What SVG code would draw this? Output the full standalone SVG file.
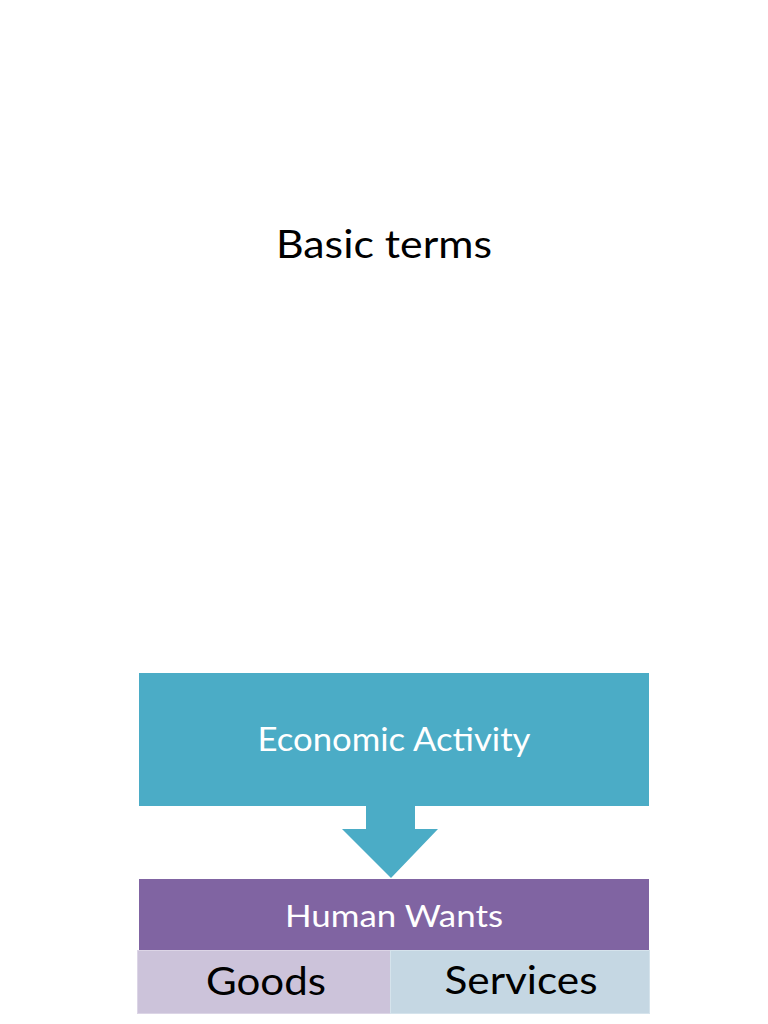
<svg xmlns="http://www.w3.org/2000/svg" width="768" height="1024" viewBox="0 0 768 1024">
<style>
text{font-family:"Lato","Liberation Sans",sans-serif;text-anchor:middle}
.w{fill:#ffffff}
.k{fill:#000000}
</style>
<rect width="768" height="1024" fill="#ffffff"/>
<text id="title" x="384" y="258" class="k" font-size="39" textLength="216" lengthAdjust="spacingAndGlyphs">Basic terms</text>
<g id="connectors">
<polygon points="366,805 415,805 415,829 438,829 391,878 342,829 366,829" fill="#4BACC6"/>
</g>
<g id="economic-activity">
<rect x="139" y="673" width="510" height="133" fill="#4BACC6"/>
<text x="394" y="751" class="w" font-size="32" textLength="273" lengthAdjust="spacingAndGlyphs">Economic Activity</text>
</g>
<g id="human-wants">
<rect x="139" y="879" width="510" height="71" fill="#8064A2"/>
<text x="394" y="927" class="w" font-size="31" textLength="218" lengthAdjust="spacingAndGlyphs">Human Wants</text>
</g>
<g id="goods">
<rect x="137.5" y="950.5" width="253" height="63" fill="#CCC3DA" stroke="#DCD5E6" stroke-width="1"/>
<text x="266" y="995" class="k" font-size="39" textLength="120" lengthAdjust="spacingAndGlyphs">Goods</text>
</g>
<g id="services">
<rect x="390.5" y="950.5" width="259" height="63" fill="#C5D7E3" stroke="#D5E3EC" stroke-width="1"/>
<text x="521" y="994" class="k" font-size="39" textLength="153" lengthAdjust="spacingAndGlyphs">Services</text>
</g>
</svg>
